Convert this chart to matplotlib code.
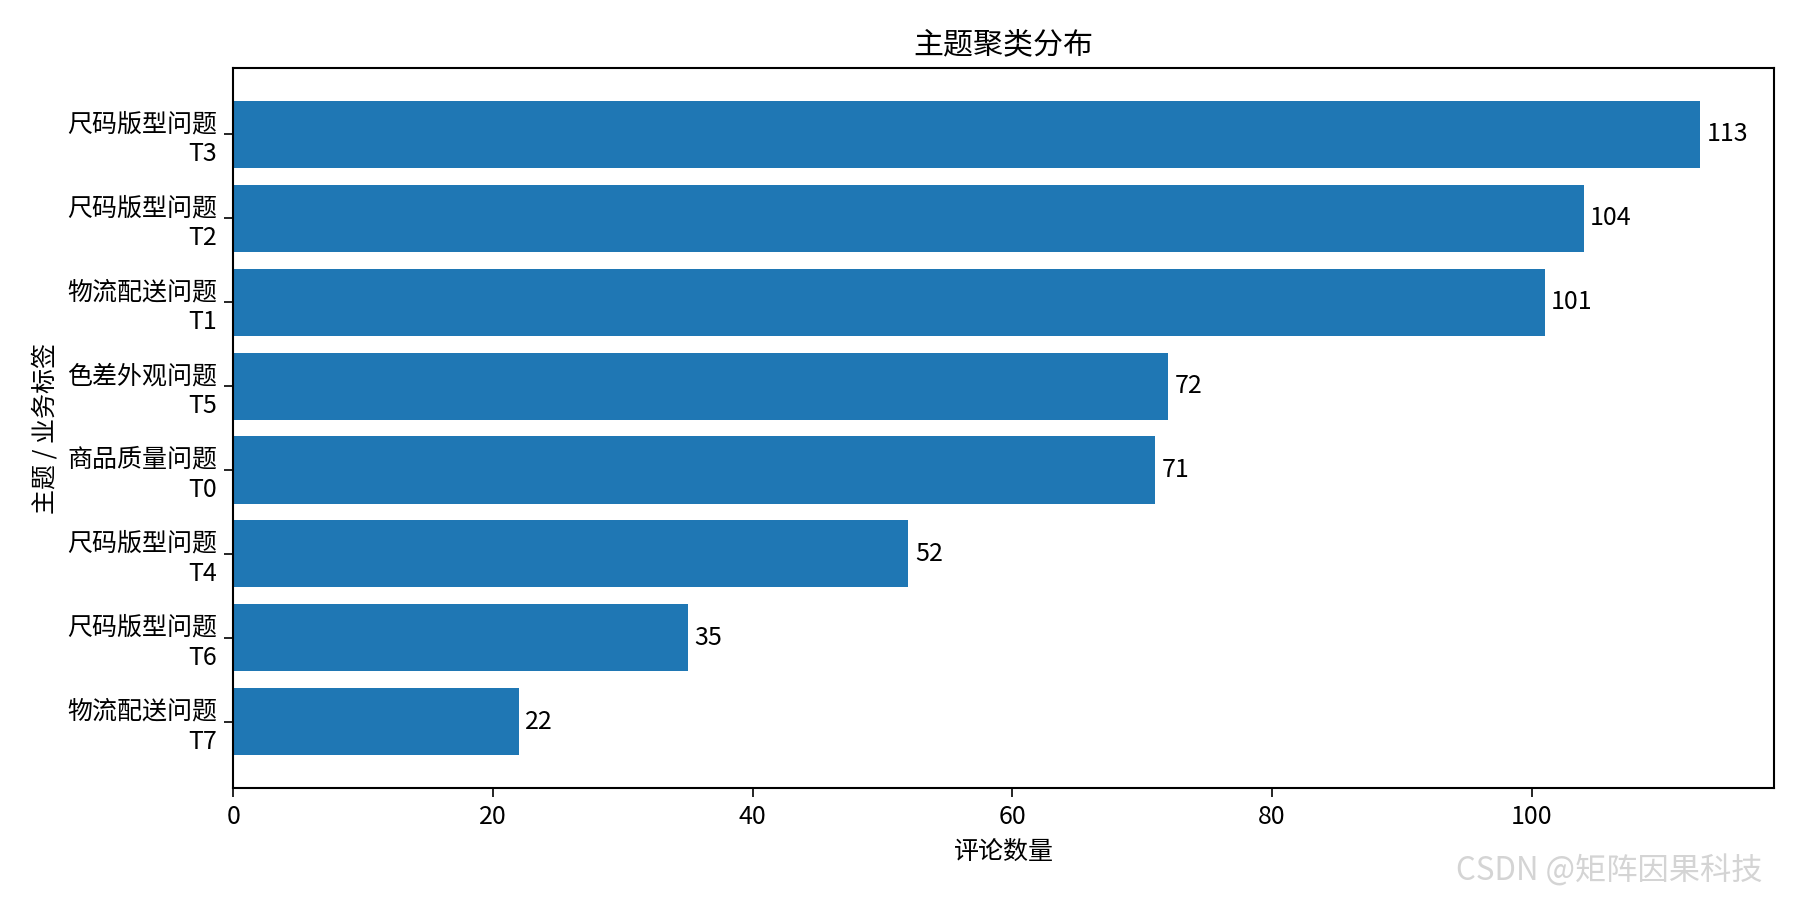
import matplotlib
matplotlib.use("Agg")
import matplotlib.pyplot as plt

plt.rcParams['font.family'] = ['Noto Sans CJK SC', 'DejaVu Sans']
plt.rcParams['axes.unicode_minus'] = False
plt.rcParams['font.size'] = 12
plt.rcParams['axes.linewidth'] = 1.0
plt.rcParams['xtick.major.size'] = 4.2
plt.rcParams['ytick.major.size'] = 4.2

# topic ids and business labels, sorted by count (largest first)
topic_ids = ['T3', 'T2', 'T1', 'T5', 'T0', 'T4', 'T6', 'T7']
topic_names = ['尺码版型问题', '尺码版型问题', '物流配送问题', '色差外观问题',
               '商品质量问题', '尺码版型问题', '尺码版型问题', '物流配送问题']
counts = [113, 104, 101, 72, 71, 52, 35, 22]

labels = [n + '\n' + t for n, t in zip(topic_names, topic_ids)]

fig, ax = plt.subplots(figsize=(12, 6), dpi=150)
fig.subplots_adjust(left=0.1296, right=0.9854, top=0.9244, bottom=0.1244)

# reverse so the biggest bar sits on top
bars = ax.barh(labels[::-1], counts[::-1], color='#1f77b4')
for b, v in zip(bars, counts[::-1]):
    ax.text(b.get_width() + 0.5, b.get_y() + b.get_height() / 2, str(v),
            va='center', ha='left', fontsize=12)

ax.tick_params(labelsize=12)
ax.set_title('主题聚类分布', fontsize=14.4, pad=7)
ax.set_xlabel('评论数量', fontsize=12)
ax.set_ylabel('主题 / 业务标签', fontsize=12)

# watermark
fig.text(0.979, 0.032, 'CSDN @矩阵因果科技', ha='right', va='center',
         fontsize=15, color='#d4d4d4')

fig.savefig('out.png', dpi=150)
